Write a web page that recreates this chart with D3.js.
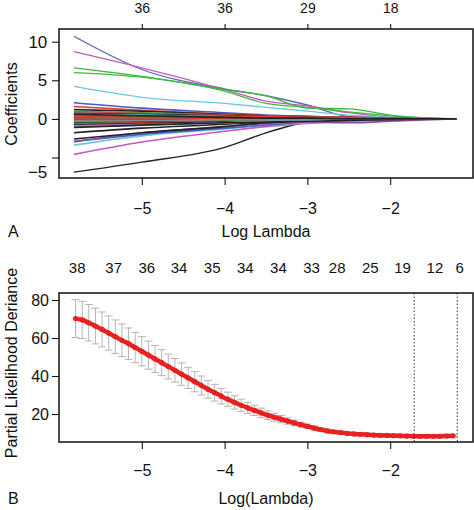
<!DOCTYPE html><html><head><meta charset="utf-8">
<script src="https://cdn.jsdelivr.net/npm/d3@7"></script>
<style>body{margin:0;background:#fff}text{font-family:"Liberation Sans",Arial,sans-serif;fill:#111}</style>
</head><body><svg id="c" width="474" height="510"></svg>
<script>
// ---- Panel A data ----
const knots=[-5.82,-5,-4,-3.5,-3,-2.5,-2,-1.5,-1.2];
const pathColors=["#5a64b4","#c35ac3","#3cb43c","#45b445","#6cc8e0","#222222","#c35ac3","#6cc8e0","#4a5ac0","#8a4a9a","#222222","#222222","#4a5ac0","#e03a3a","#222222","#3cb43c","#e03a3a","#888888","#222222","#6cc8e0","#c35ac3","#e03a3a","#3cb43c","#222222","#8a6a3a","#e03a3a","#222222","#4a5ac0","#e07a7a","#222222","#3cb43c","#e03a3a","#222222","#c35ac3","#6cc8e0","#222222","#e03a3a","#888888","#222222"];
const pathValues=[
[10.7,6.4,3.9,3.0,1.8,0.3,0.1,0,0],
[8.7,6.6,3.8,2.3,1.7,0.8,0.2,0.05,0],
[6.6,5.5,3.8,3.0,1.4,1.3,0.5,0.1,0],
[6.0,5.4,3.6,2.0,1.5,0.9,0.4,0.1,0],
[4.2,2.8,2.0,1.5,1.0,0.5,0.2,0.05,0],
[-6.9,-5.6,-3.7,-1.8,-0.4,0.05,0,0,0],
[-4.6,-3.0,-1.6,-1.0,-0.6,-0.3,-0.1,0,0],
[-3.4,-2.2,-1.3,-0.8,-0.5,-0.3,-0.1,0,0],
[-2.9,-2.0,-1.2,-0.8,-0.4,-0.2,-0.1,0,0],
[-3.0,-1.8,-1.0,-0.6,-0.4,-0.5,-0.3,-0.1,0],
[-2.6,-1.8,-1.0,-0.5,-0.2,-0.1,0,0,0],
[-1.8,-1.2,-0.7,-0.4,-0.2,0,0,0,0],
[2.1,1.4,0.8,0.5,0.3,0.1,0,0,0],
[1.6,1.1,0.6,0.4,0.3,0.2,0.1,0.05,0],
[1.2,1.0,0.6,0.4,0.3,0.2,0.1,0,0],
[1.0,0.8,0.5,0.3,0.2,0.1,0,0,0],
[0.9,0.7,0.5,0.4,0.3,0.2,0.1,0,0],
[0.8,0.6,0.4,0.3,0.2,0.1,0,0,0],
[0.7,0.6,0.4,0.3,0.2,0.1,0,0,0],
[0.6,0.5,0.3,0.2,0.1,0.1,0,0,0],
[0.5,0.4,0.3,0.2,0.1,0,0,0,0],
[0.4,0.4,0.3,0.3,0.2,0.1,0.1,0,0],
[0.3,0.3,0.2,0.1,0.1,0,0,0,0],
[0.2,0.2,0.1,0.1,0,0,0,0,0],
[0.1,0.1,0.1,0,0,0,0,0,0],
[-0.1,-0.1,0,0,0,0,0,0,0],
[-0.2,-0.2,-0.1,-0.1,0,0,0,0,0],
[-0.3,-0.3,-0.2,-0.1,-0.1,0,0,0,0],
[-0.4,-0.3,-0.2,-0.2,-0.1,-0.1,0,0,0],
[-0.5,-0.4,-0.3,-0.2,-0.1,0,0,0,0],
[-0.6,-0.5,-0.3,-0.2,-0.1,-0.1,0,0,0],
[-0.7,-0.5,-0.4,-0.3,-0.2,-0.1,0,0,0],
[-0.8,-0.6,-0.4,-0.3,-0.2,-0.1,0,0,0],
[-0.9,-0.7,-0.5,-0.3,-0.2,-0.1,-0.1,0,0],
[-1.0,-0.8,-0.5,-0.3,-0.2,-0.1,0,0,0],
[-1.1,-0.8,-0.5,-0.4,-0.3,-0.2,-0.1,0,0],
[0.3,0.2,0.2,0.2,0.1,0.1,0.05,0.02,0],
[-0.2,-0.2,-0.1,-0.1,-0.1,0,0,0,0],
[0.6,0.4,0.2,0.1,0.1,0,0,0,0]
];
const topTicksA=[-5,-4,-3,-2];
const topLabelsA=["36","36","29","18"];
const yTicksA=[-5,0,5,10];
const xTicks=[-5,-4,-3,-2];

// ---- Panel B data ----
const logLambda=[-5.80,-5.72,-5.64,-5.56,-5.48,-5.40,-5.32,-5.24,-5.16,-5.08,-5.00,-4.92,-4.84,-4.76,-4.68,-4.60,-4.52,-4.44,-4.36,-4.28,-4.20,-4.12,-4.04,-3.96,-3.88,-3.80,-3.72,-3.64,-3.56,-3.48,-3.40,-3.32,-3.24,-3.16,-3.08,-3.00,-2.92,-2.84,-2.76,-2.68,-2.60,-2.52,-2.44,-2.36,-2.28,-2.20,-2.12,-2.04,-1.96,-1.88,-1.80,-1.72,-1.64,-1.56,-1.48,-1.40,-1.32,-1.24];
const cvMean=[70.2,69.5,68.0,66.3,64.5,62.6,60.7,58.8,57.0,55.0,53.0,51.0,49.0,47.0,45.0,43.0,41.0,39.0,37.0,35.0,33.0,31.2,29.4,27.7,26.1,24.6,23.2,21.9,20.6,19.4,18.3,17.3,16.3,15.3,14.4,13.5,12.6,11.8,11.1,10.6,10.2,9.8,9.5,9.3,9.1,8.9,8.8,8.7,8.6,8.5,8.4,8.3,8.3,8.3,8.3,8.3,8.4,8.5];
const cvSd=[10,9.8,9.6,9.4,9.2,9.0,8.8,8.6,8.3,8.0,7.7,7.4,7.1,6.8,6.5,6.2,5.9,5.6,5.3,5.0,4.7,4.4,4.1,3.8,3.5,3.2,2.9,2.7,2.5,2.3,2.1,1.9,1.7,1.5,1.3,1.2,1.1,1.0,0.9,0.8,0.7,0.6,0.6,0.5,0.5,0.5,0.5,0.5,0.5,0.5,0.5,0.5,0.5,0.5,0.5,0.5,0.5,0.5];
const topPosB=[-5.78,-5.34,-4.94,-4.55,-4.15,-3.75,-3.35,-2.95,-2.64,-2.24,-1.85,-1.46,-1.16];
const topLabelsB=["38","37","36","34","35","34","34","33","28","25","19","12","6"];
const yTicksB=[20,40,60,80];
const vLines=[-1.71,-1.19];

const svg=d3.select("#c");
const x=d3.scaleLinear().domain([-6,-1]).range([59,473]);

// Panel A
const yA=d3.scaleLinear().domain([-5,10]).range([157.5,41.7]);
const gA=svg.append("g");
const line=d3.line().x(d=>x(d[0])).y(d=>yA(d[1])).curve(d3.curveMonotoneX);
pathValues.forEach((v,i)=>{
  gA.append("path").attr("d",line(knots.map((k,j)=>[k,v[j]]))).attr("fill","none")
    .attr("stroke",pathColors[i%pathColors.length]).attr("stroke-width",i<6?1.3:1.6);
});
gA.append("rect").attr("x",59).attr("y",29).attr("width",414).attr("height",149).attr("fill","none").attr("stroke","#111").attr("stroke-width",1.5);
gA.append("g").attr("transform","translate(0,178)").call(d3.axisBottom(x).tickValues(xTicks).tickSize(7).tickFormat(d3.format("d")))
  .call(g=>{g.select(".domain").remove();g.selectAll("text").attr("font-size",16).attr("dy","1.6em");});
gA.append("g").attr("transform","translate(0,29)").call(d3.axisTop(x).tickValues(topTicksA).tickSize(5).tickFormat((d,i)=>topLabelsA[i]))
  .call(g=>{g.select(".domain").remove();g.selectAll("text").attr("font-size",14).attr("y",-16).attr("dy","0");});
gA.append("g").attr("transform","translate(59,0)").call(d3.axisLeft(yA).tickValues(yTicksA).tickSize(7))
  .call(g=>{g.select(".domain").remove();g.selectAll("text").attr("font-size",17).attr("dx","-0.1em");
    g.selectAll(".tick").filter(d=>d===-5).select("text").attr("dy","1.2em");});
svg.append("text").attr("x",266).attr("y",237).attr("text-anchor","middle").attr("font-size",16).text("Log Lambda");
svg.append("text").attr("transform","translate(17,104) rotate(-90)").attr("text-anchor","middle").attr("font-size",16).text("Coefficients");
svg.append("text").attr("x",8).attr("y",237).attr("font-size",16).text("A");

// Panel B
const yB=d3.scaleLinear().domain([20,80]).range([414,300]);
const gB=svg.append("g");
logLambda.forEach((l,i)=>{
  const m=cvMean[i],s=cvSd[i],px=x(l);
  gB.append("line").attr("x1",px).attr("x2",px).attr("y1",yB(m+s)).attr("y2",yB(m-s)).attr("stroke","#b4b4b4").attr("stroke-width",1);
  [m+s,m-s].forEach(v=>gB.append("line").attr("x1",px-4).attr("x2",px+4).attr("y1",yB(v)).attr("y2",yB(v)).attr("stroke","#b4b4b4").attr("stroke-width",1));
});
gB.append("path").attr("d",d3.line().x((d,i)=>x(logLambda[i])).y(d=>yB(d)).curve(d3.curveMonotoneX)(cvMean))
  .attr("fill","none").attr("stroke","#e82020").attr("stroke-width",4.5);
logLambda.forEach((l,i)=>gB.append("circle").attr("cx",x(l)).attr("cy",yB(cvMean[i])).attr("r",2.6).attr("fill","#e82020"));
vLines.forEach(v=>gB.append("line").attr("x1",x(v)).attr("x2",x(v)).attr("y1",293).attr("y2",442).attr("stroke","#333").attr("stroke-width",1).attr("stroke-dasharray","1.5,2"));
gB.append("rect").attr("x",59).attr("y",293).attr("width",414).attr("height",149).attr("fill","none").attr("stroke","#111").attr("stroke-width",1.5);
gB.append("g").attr("transform","translate(0,442)").call(d3.axisBottom(x).tickValues(xTicks).tickSize(7).tickFormat(d3.format("d")))
  .call(g=>{g.select(".domain").remove();g.selectAll("text").attr("font-size",16).attr("dy","1.5em");});
topPosB.forEach((p,i)=>svg.append("text").attr("x",x(p)).attr("y",273).attr("text-anchor","middle").attr("font-size",15).text(topLabelsB[i]));
gB.append("g").attr("transform","translate(59,0)").call(d3.axisLeft(yB).tickValues(yTicksB).tickSize(7))
  .call(g=>{g.select(".domain").remove();g.selectAll("text").attr("font-size",16);});
svg.append("text").attr("x",266).attr("y",504).attr("text-anchor","middle").attr("font-size",16).text("Log(Lambda)");
svg.append("text").attr("transform","translate(17,363) rotate(-90)").attr("text-anchor","middle").attr("font-size",16).text("Partial Likelihood Deriance");
svg.append("text").attr("x",8).attr("y",504).attr("font-size",16).text("B");
</script></body></html>
